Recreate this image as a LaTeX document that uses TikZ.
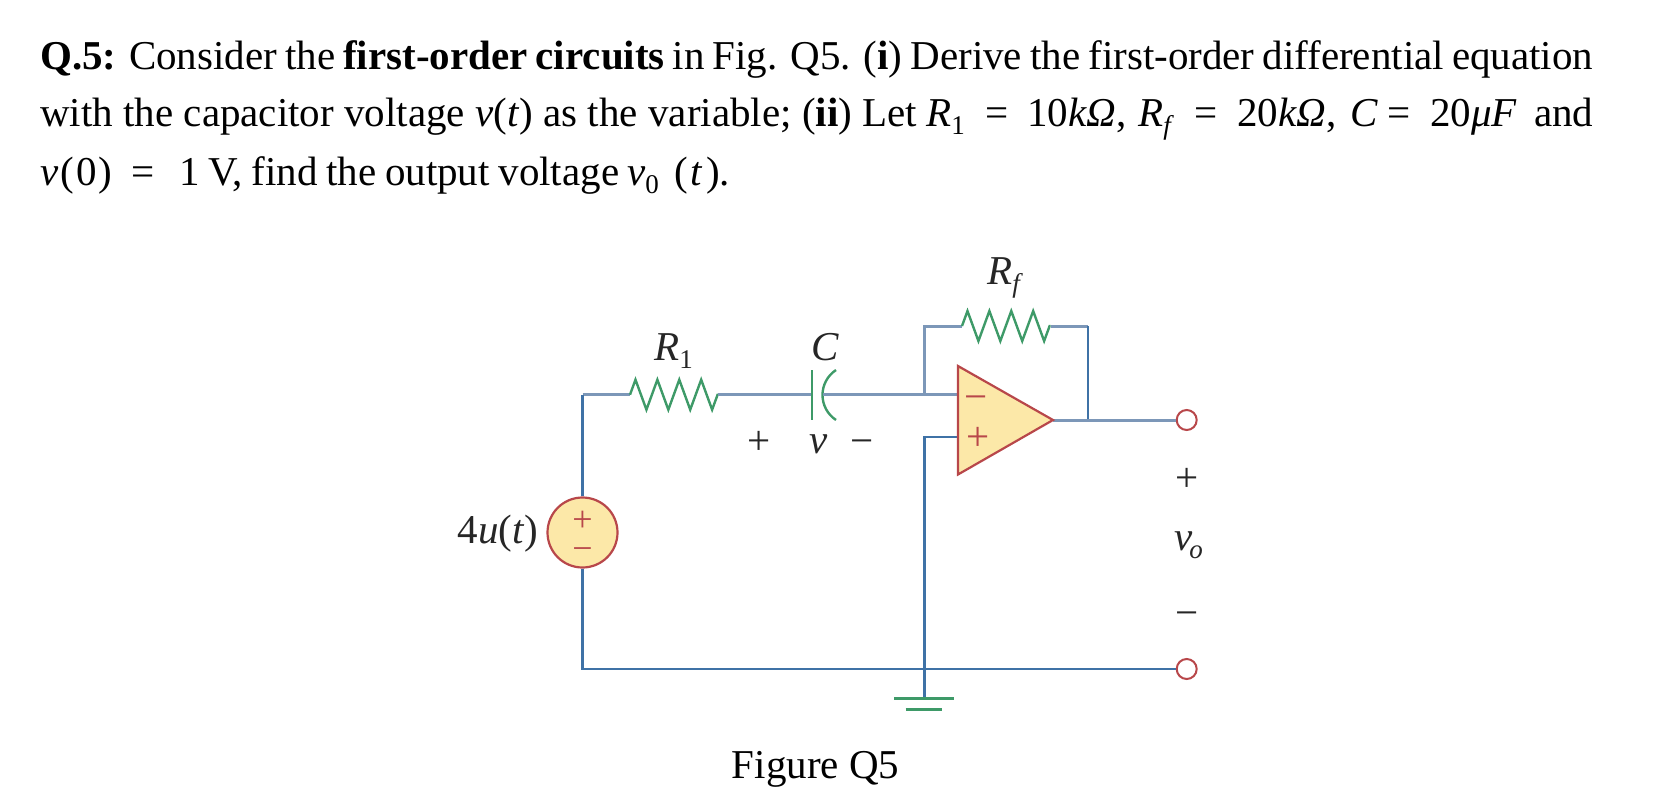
\documentclass[tikz,border=0pt]{standalone}
\usepackage{fontspec}
\setmainfont{Liberation Serif}
\usetikzlibrary{decorations.pathmorphing}
\definecolor{wireblue}{HTML}{3F72A6}
\definecolor{softblue}{HTML}{7C97B8}
\definecolor{compgreen}{HTML}{3E9A68}
\definecolor{ampred}{HTML}{B8474A}
\definecolor{ampfill}{HTML}{FCE8A8}
\newcommand{\lowsub}[1]{\raisebox{-.2em}{\fontsize{27}{27}\selectfont #1}}
\newcommand{\cell}[2]{\makebox[#1pt][l]{#2}}
\tikzset{
    wire/.style={wireblue, line width=2.2pt},
    softwire/.style={softblue, line width=3pt},
    part/.style={compgreen, line width=2.4pt},
    resistor/.style={part, decorate, decoration={zigzag, amplitude=15pt, segment length=21.9pt}},
    label/.style={inner sep=0pt, anchor=base west, font=\fontsize{41}{41}\selectfont, text=black!85},
    sign/.style={inner sep=0pt, font=\fontsize{41}{41}\selectfont, text=black!85},
    redsign/.style={sign, text=ampred},
    srcsign/.style={inner sep=0pt, align=center, font=\fontsize{36}{29}\selectfont, text=ampred},
    textline/.style={inner sep=0pt, anchor=base west, font=\fontsize{41}{41}\selectfont},
    terminal/.style={circle, draw=ampred, fill=white, line width=2pt, inner sep=0pt, minimum size=20pt}
}
\begin{document}
\begin{tikzpicture}[x=1pt, y=-1pt]
        \useasboundingbox (0, 0) rectangle (1670, 806);
        \node[textline] (L1) at (40, 69.3) {\makebox[1553pt][s]{\textbf{Q.5:} Consider the \textbf{first-order circuits} in Fig. Q5. (\textbf{i}) Derive the first-order differential equation}};
        \node[textline] (L2) at (40, 126) {\makebox[877pt][s]{with the capacitor voltage \textit{v}(\textit{t}) as the variable; (\textbf{ii}) Let}};
        \node[textline] (L2m) at (926, 126) {\cell{59}{\textit{R}\lowsub{1}}\cell{42}{=}\cell{111}{10\textit{kΩ},}\cell{56}{\textit{R}\lowsub{\textit{f}}}\cell{43}{=}\cell{113}{20\textit{kΩ},}\cell{37}{\textit{C}}\cell{43}{=}\cell{104}{20\textit{μF}}and};
        \node[textline] (L3) at (40, 185.7) {\cell{91}{\textit{v}\kern2pt(\kern2pt0\kern2pt)}\cell{48}{=}\makebox[440pt][s]{1 V, find the output voltage}\kern8pt\cell{47}{\textit{v}\lowsub{0}}(\kern3pt\textit{t}\kern3pt).};
        \coordinate (A) at (582.5, 394.7);
        \coordinate (R1a) at (630, 394.7);
        \coordinate (R1b) at (718, 394.7);
        \coordinate (C1) at (812, 394.7);
        \coordinate (C2) at (823, 394.7);
        \coordinate (J) at (924.5, 394.7);
        \coordinate (Im) at (958, 394.7);
        \coordinate (Ip) at (958, 437.3);
        \coordinate (Bp) at (924.5, 437.3);
        \coordinate (Fa) at (962, 326);
        \coordinate (Fb) at (1050.5, 326);
        \coordinate (Fc) at (1088.3, 326);
        \coordinate (Ot) at (1053, 420);
        \coordinate (Oj) at (1088.3, 420);
        \coordinate (Bl) at (582.5, 669);
        \coordinate (Bj) at (924.5, 669);
        \coordinate (G) at (924.5, 698.3);
        \node[circle, draw=ampred, fill=ampfill, line width=2.2pt, inner sep=0pt, minimum size=70pt] (S) at (582.5, 532.5) {};
        \node[terminal] (T1) at (1186.7, 420) {};
        \node[terminal] (T2) at (1186.7, 669) {};
        \draw[softwire] (A) -- (R1a);
        \draw[wire] (S) -- (A);
        \draw[resistor] (R1a) -- (R1b);
        \draw[softwire] (R1b) -- (C1);
        \draw[part] (812, 370) -- (812, 420);
        \draw[part] (836, 370) .. controls (818, 382) and (818, 408) .. (836, 420);
        \draw[softwire] (C2) -- (J) -- (Im);
        \draw[softwire] (J) |- (Fa);
        \draw[resistor] (Fa) -- (Fb);
        \draw[softwire] (Fb) -- (Fc);
        \draw[wire] (Fc) -- (Oj);
        \draw[softwire] (Ot) -- (T1);
        \draw[wire] (Ip) -- (Bp) -- (G);
        \draw[wire] (S) -- (Bl) -- (T2);
        \draw[part] (894, 698.3) -- (954, 698.3);
        \draw[part] (905.7, 709.5) -- (942.3, 709.5);
        \draw[ampred, fill=ampfill, line width=2.2pt, line join=miter] (958, 366) -- (Ot) -- (958, 474.5) -- cycle;
        \node[srcsign] (Sg) at (582.5, 536) {+\\−};
        \node[redsign] (Am) at (976.5, 403) {−};
        \node[redsign] (Ap) at (978, 439) {+};
        \node[label] (LR1) at (654, 360) {\textit{R}\lowsub{1}};
        \node[label] (LC) at (811, 360) {\textit{C}};
        \node[label] (LRf) at (987, 284) {\textit{R}\lowsub{\textit{f}}};
        \node[label] (LS) at (457.5, 543) {4\textit{u}(\textit{t})};
        \node[sign] (Cp) at (758.6, 443) {+};
        \node[label] (Lv) at (809, 453) {\textit{v}};
        \node[sign] (Cm) at (862, 447) {−};
        \node[sign] (Op) at (1186.7, 480) {+};
        \node[label] (Lo) at (1174, 550) {\textit{v}\kern-3pt\lowsub{\textit{o}}};
        \node[sign] (Om) at (1186.7, 619) {−};
        \node[textline] (Fig) at (731.7, 778) {Figure Q5};
    \end{tikzpicture}
\end{document}
